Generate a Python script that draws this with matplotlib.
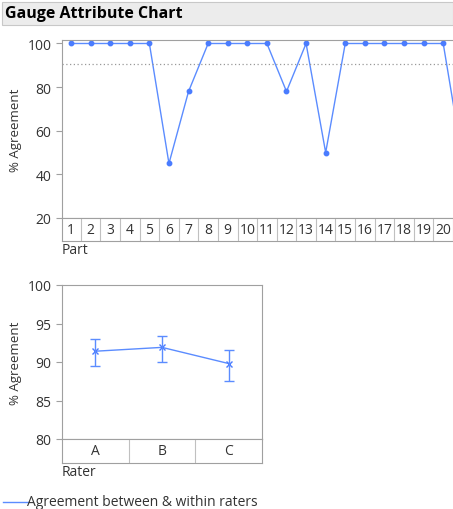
import matplotlib
matplotlib.use("Agg")
import matplotlib.pyplot as plt
from matplotlib.patches import Rectangle

plt.rcParams['font.family'] = ['Open Sans', 'DejaVu Sans']

parts = list(range(1, 22))
part_agree = [100, 100, 100, 100, 100, 45, 78, 100, 100, 100, 100, 78, 100, 50,
              100, 100, 100, 100, 100, 100, 46]
overall_ref = 90.6
raters = ["A", "B", "C"]
rater_agree = [91.4, 91.9, 89.8]
rater_lo = [89.5, 90.0, 87.5]
rater_hi = [93.0, 93.4, 91.6]

W, H = 453, 510
fig = plt.figure(figsize=(W/100, H/100), dpi=100)
def ax_px(x0, y0, x1, y1):
    return fig.add_axes([x0/W, 1-y1/H, (x1-x0)/W, (y1-y0)/H])

blue = '#4a7cff'
lc = '#5b8cff'
txt = '#333333'
edge = '#a0a0a0'

# title bar
fig.patches.append(Rectangle((2/W, 1-26/H), 451/W, 23/H, transform=fig.transFigure,
                             facecolor='#ececec', edgecolor='#c8c8c8', lw=0.8))
fig.text(5/W, 1-14.5/H, "Gauge Attribute Chart", fontsize=11.5, fontweight='bold',
         va='center', ha='left', color='black')

# top chart
ax = ax_px(62, 41, 453, 219)
ax.plot(parts, part_agree, color=lc, lw=1, marker='o', ms=3.2, mfc=blue, mec=blue)
ax.axhline(overall_ref, color='#999999', ls=(0, (1, 2)), lw=0.9)
ax.set_xlim(0.54, 20.5)
ax.set_ylim(20, 101.6)
ax.set_yticks([20, 40, 60, 80, 100])
ax.set_xticks([])
ax.set_ylabel("% Agreement", fontsize=9.5, color=txt)
ax.tick_params(axis='y', labelsize=10, colors=txt, length=4, color=edge)
for s in ax.spines.values():
    s.set_color(edge)
ax.spines['right'].set_visible(False)

axb = ax_px(62, 219, 453, 242)
axb.set_xlim(0.54, 20.5)
axb.set_ylim(0, 1)
axb.set_xticks([]); axb.set_yticks([])
for p in parts[:20]:
    axb.axvline(p + 0.5, color='#c0c0c0', lw=0.8)
    axb.text(p, 0.5, str(p), ha='center', va='center', fontsize=10, color=txt)
for s in axb.spines.values():
    s.set_color(edge)
axb.spines['right'].set_visible(False)
fig.text(62/W, 1-251/H, "Part", fontsize=10, color=txt, va='center')

# bottom chart
ax2 = ax_px(62, 286, 262, 440)
xs = list(range(len(raters)))
ax2.plot(xs, rater_agree, color=lc, lw=1, marker='x', ms=4, mec=blue)
yerr = [[a - l for a, l in zip(rater_agree, rater_lo)],
        [h - a for a, h in zip(rater_agree, rater_hi)]]
ax2.errorbar(xs, rater_agree, yerr=yerr, fmt='none', ecolor=lc, elinewidth=1, capsize=3.5)
ax2.set_xlim(-0.5, 2.5)
ax2.set_ylim(80, 100)
ax2.set_yticks([80, 85, 90, 95, 100])
ax2.set_xticks([])
ax2.set_ylabel("% Agreement", fontsize=9.5, color=txt)
ax2.tick_params(axis='y', labelsize=10, colors=txt, length=4, color=edge)
for s in ax2.spines.values():
    s.set_color(edge)

ax2b = ax_px(62, 440, 262, 464)
ax2b.set_xlim(-0.5, 2.5); ax2b.set_ylim(0, 1)
ax2b.set_xticks([]); ax2b.set_yticks([])
for i, r in enumerate(raters):
    if i < 2:
        ax2b.axvline(i + 0.5, color='#c0c0c0', lw=0.8)
    ax2b.text(i, 0.5, r, ha='center', va='center', fontsize=10, color=txt)
for s in ax2b.spines.values():
    s.set_color(edge)
fig.text(62/W, 1-472/H, "Rater", fontsize=10, color=txt, va='center')

# legend
fig.lines.append(plt.Line2D([3/W, 28/W], [1-503/H, 1-503/H], transform=fig.transFigure,
                            color=lc, lw=1))
fig.text(27/W, 1-503/H, "Agreement between & within raters", fontsize=10,
         color=txt, va='center')

fig.savefig("out.png", dpi=100)
